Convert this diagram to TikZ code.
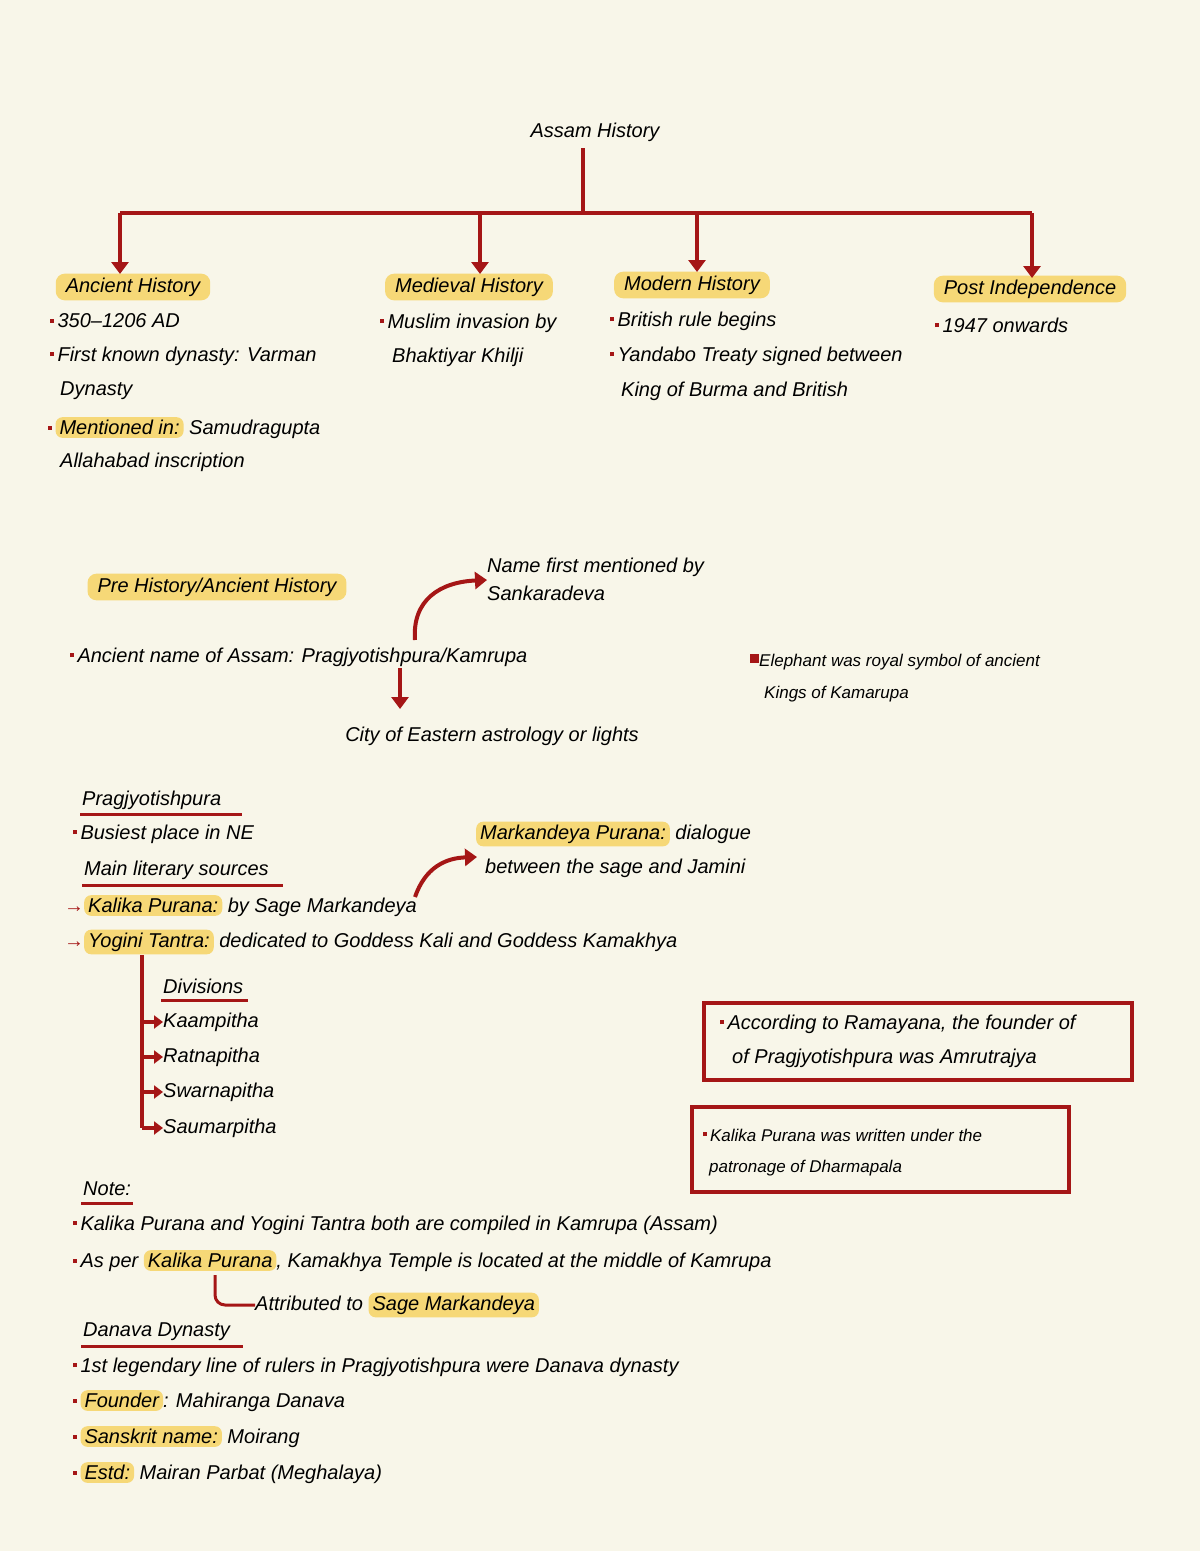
\documentclass[tikz,border=0pt]{standalone}
\usepackage{fontspec}
\setmainfont{Liberation Sans}
\usetikzlibrary{arrows.meta}
\definecolor{bg}{HTML}{F8F6E9}
\definecolor{dred}{HTML}{A51616}
\definecolor{hlc}{HTML}{F6D877}
\newcommand{\hlx}[1]{\tikz[baseline]\node[fill=hlc,rounded corners=7pt,inner xsep=4pt,inner ysep=3pt,anchor=base]{#1};}
\newcommand{\bul}{{\color{dred}\rule[5pt]{4pt}{4pt}}\,}
\newcommand{\arb}{{\color{dred}\textbf{→}}}
\tikzset{
 txt/.style={anchor=west,inner sep=0pt,font=\itshape\fontsize{20}{24}\selectfont},
 sm/.style={anchor=west,inner sep=0pt,font=\itshape\fontsize{17}{20}\selectfont},
 hlnode/.style={fill=hlc,rounded corners=9pt,inner xsep=10pt,inner ysep=4pt,font=\itshape\fontsize{20}{24}\selectfont},
 con/.style={draw=dred,line width=4pt},
 arr/.style={draw=dred,line width=4pt,-{Triangle[length=12pt,width=17pt]}},
 ul/.style={draw=dred,line width=3pt},
 boxx/.style={draw=dred,line width=3.5pt}
}
\begin{document}
\begin{tikzpicture}[x=1pt,y=-1pt]
\fill[bg] (0,0) rectangle (1200,1551);
\useasboundingbox (0,0) rectangle (1200,1551);
% tree
\node[txt,anchor=center] (root) at (595,132) {Assam History};
\coordinate (r1) at (583,148); \coordinate (r2) at (583,213);
\coordinate (h1) at (120,213); \coordinate (h4) at (1032,213);
\coordinate (h2) at (480,213); \coordinate (h3) at (697,213);
\draw[con] (r1) -- (r2);
\draw[con] (h1) -- (h4);
\node[hlnode] (anc) at (133,287) {Ancient History};
\node[hlnode] (med) at (469,287) {Medieval History};
\node[hlnode] (mod) at (692,285) {Modern History};
\node[hlnode] (post) at (1030,289) {Post Independence};
\draw[arr] (h1) -- (120,274);
\draw[arr] (h2) -- (480,274);
\draw[arr] (h3) -- (697,272);
\draw[arr] (h4) -- (1032,278);
\node[txt] (a1) at (50,321) {\bul 350–1206 AD};
\node[txt] (a2) at (50,356) {\bul First known dynasty: Varman};
\node[txt] (a3) at (60,391) {Dynasty};
\node[txt] (a4) at (48,428) {\bul\hlx{Mentioned in:} Samudragupta};
\node[txt] (a5) at (60,462) {Allahabad inscription};
\node[txt] (m1) at (380,323) {\bul Muslim invasion by};
\node[txt] (m2) at (392,357) {Bhaktiyar Khilji};
\node[txt] (o1) at (610,321) {\bul British rule begins};
\node[txt] (o2) at (610,356) {\bul Yandabo Treaty signed between};
\node[txt] (o3) at (621,391) {King of Burma and British};
\node[txt] (p1) at (935,325) {\bul 1947 onwards};
% pre history
\node[hlnode] (pre) at (217,587) {Pre History/Ancient History};
\node[txt] (an) at (70,657) {\bul Ancient name of Assam: Pragjyotishpura/Kamrupa};
\node[txt,align=left,anchor=north west] (nf) at (487,558) {Name first mentioned by\\[4pt]Sankaradeva};
\coordinate (c1) at (415,640);
\draw[arr] (c1) .. controls (412,600) and (440,582) .. (nf.west |- 0,580);
\draw[arr] (400,668) -- (400,709);
\node[txt,anchor=center] (city) at (492,736) {City of Eastern astrology or lights};
\node[sm] (el1) at (750,662) {{\color{dred}\rule[3pt]{9pt}{9pt}}Elephant was royal symbol of ancient};
\node[sm] (el2) at (764,694) {Kings of Kamarupa};
% pragjyotishpura
\node[txt] (pj) at (82,800) {Pragjyotishpura};
\draw[ul] (80,814) -- (242,814);
\node[txt] (bp) at (73,834) {\bul Busiest place in NE};
\node[txt] (ml) at (84,870) {Main literary sources};
\draw[ul] (82,885) -- (283,885);
\node[txt] (kp) at (64,906) {\arb\hlx{Kalika Purana:} by Sage Markandeya};
\node[txt] (yt) at (64,942) {\arb\hlx{Yogini Tantra:} dedicated to Goddess Kali and Goddess Kamakhya};
\node[txt] (mp) at (476,834) {\hlx{Markandeya Purana:} dialogue};
\node[txt] (mp2) at (485,868) {between the sage and Jamini};
\draw[arr] (415,897) .. controls (425,868) and (445,858) .. (477,857);
% divisions
\coordinate (v1) at (142,955); \coordinate (v2) at (142,1128);
\draw[con] (v1) -- (v2);
\node[txt] (dv) at (163,986) {Divisions};
\draw[ul] (161,1000) -- (248,1000);
\foreach \n/\t/\y in {d1/Kaampitha/1022,d2/Ratnapitha/1057,d3/Swarnapitha/1092,d4/Saumarpitha/1128}{
 \node[txt] (\n) at (163,\y) {\t};
 \draw[draw=dred,line width=4pt,-{Triangle[length=9pt,width=13pt]}] (142,\y) -- (\n.west);
}
% boxes
\draw[boxx] (704,1003) rectangle (1132,1080);
\node[txt] (b1) at (720,1024) {\bul According to Ramayana, the founder of};
\node[txt] (b2) at (732,1058) {of Pragjyotishpura was Amrutrajya};
\draw[boxx] (692,1107) rectangle (1069,1192);
\node[sm] (b3) at (703,1135) {\bul Kalika Purana was written under the};
\node[sm] (b4) at (709,1168) {patronage of Dharmapala};
% note
\node[txt] (nt) at (83,1189) {Note:};
\draw[ul] (81,1203) -- (133,1203);
\node[txt] (n1) at (73,1225) {\bul Kalika Purana and Yogini Tantra both are compiled in Kamrupa (Assam)};
\node[txt] (n2) at (73,1261) {\bul As per \hlx{Kalika Purana}, Kamakhya Temple is located at the middle of Kamrupa};
\node[txt] (at) at (255,1305) {Attributed to \hlx{Sage Markandeya}};
\draw[draw=dred,line width=3pt,rounded corners=10pt] (215,1275) -- (215,1305) -- (at.west);
% danava
\node[txt] (dd) at (83,1332) {Danava Dynasty};
\draw[ul] (81,1346) -- (243,1346);
\node[txt] (e1) at (73,1367) {\bul 1st legendary line of rulers in Pragjyotishpura were Danava dynasty};
\node[txt] (e2) at (73,1401) {\bul\hlx{Founder}: Mahiranga Danava};
\node[txt] (e3) at (73,1437) {\bul\hlx{Sanskrit name:} Moirang};
\node[txt] (e4) at (73,1473) {\bul\hlx{Estd:} Mairan Parbat (Meghalaya)};
\end{tikzpicture}
\end{document}
